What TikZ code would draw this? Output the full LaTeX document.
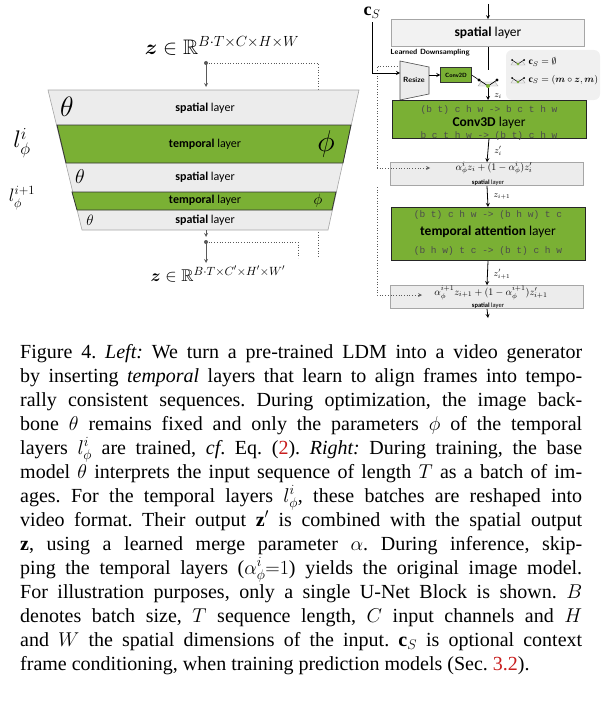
\RequirePackage{fix-cm}
\documentclass[tikz,border=0pt]{standalone}
\usepackage{amsmath,amssymb}
\usepackage{fontspec}
\setmainfont{Liberation Serif}
\newfontfamily\dsans{Carlito}
\newfontfamily\dmono{Liberation Mono}
\definecolor{lgreen}{RGB}{122,176,52}
\definecolor{lgray}{RGB}{236,236,236}
\definecolor{refred}{RGB}{200,30,30}
\newcommand{\capline}[2]{\node[anchor=base west,inner sep=0] at (20,#1) {\makebox[562pt][s]{#2}};}
\begin{document}
\frenchspacing
\begin{tikzpicture}[x=1pt,y=-1pt,
  gband/.style={fill=lgray,draw=gray!70,line width=0.6pt},
  tband/.style={fill=lgreen,draw=black!80,line width=0.8pt},
  lab/.style={font=\dsans\fontsize{12}{12}\selectfont},
  rbox/.style={fill=lgray,draw=gray!70,line width=0.6pt,minimum width=193pt,inner sep=0},
  tbox/.style={fill=lgreen,draw=black!85,line width=1pt,minimum width=194pt,inner sep=0},
  code/.style={font=\dmono\fontsize{9.5}{9.5}\selectfont,color=black!70},
  arr/.style={-stealth,line width=0.8pt},
  garr/.style={-stealth,line width=0.8pt,draw=gray!70!black},
  dot/.style={dotted,line width=0.7pt,draw=gray!70!black}]
\useasboundingbox (0,0) rectangle (600,709);
% ---------- left ----------
\coordinate (t0) at (206,63);
\coordinate (b0) at (206,242);
\draw[dot] (t0) -- (318,63) -- (318,257);
\draw[dot] (b0) -- (298,242) -- (298,258);
\draw[gband] (48,90) -- (359,90) -- (328,230) -- (82,230) -- cycle;
\draw[tband] (57,125) -- (351,125) -- (343,163) -- (66,163) -- cycle;
\draw[tband] (72,192) -- (336,192) -- (332,210) -- (77,210) -- cycle;
\node[font=\fontsize{21}{21}\selectfont] (zin) at (222,46) {$\boldsymbol{z}\in\mathbb{R}^{B\cdot T\times C\times H\times W}$};
\fill[gray!70!black] (t0) circle (2pt);
\draw[garr] (t0) -- (206,87);
\node[lab] (s1) at (205,108) {\textbf{spatial} layer};
\node[lab] (t1) at (205,144) {\textbf{temporal} layer};
\node[lab] (s2) at (205,177) {\textbf{spatial} layer};
\node[lab] (t2) at (205,200) {\textbf{temporal} layer};
\node[lab] (s3) at (205,220) {\textbf{spatial} layer};
\node[font=\fontsize{28}{28}\selectfont] at (67,107) {$\theta$};
\node[font=\fontsize{30}{30}\selectfont] at (326,144) {$\phi$};
\node[font=\fontsize{20}{20}\selectfont] at (80,177) {$\theta$};
\node[font=\fontsize{15}{15}\selectfont] at (318,201) {$\phi$};
\node[font=\fontsize{15}{15}\selectfont] at (90,220) {$\theta$};
\node[font=\fontsize{24}{24}\selectfont] at (22,143) {$l^i_\phi$};
\node[font=\fontsize{18}{18}\selectfont] at (22,198) {$l^{i+1}_\phi$};
\draw[garr] (206,230) -- (206,237);
\fill[gray!70!black] (b0) circle (2pt);
\draw[garr] (b0) -- (206,263);
\node[font=\fontsize{17}{17}\selectfont] (zout) at (218,274) {$\boldsymbol{z}\in\mathbb{R}^{B\cdot T\times C'\times H'\times W'}$};
% ---------- right ----------
\node[font=\fontsize{18}{18}\selectfont] (cs) at (372,13) {$\mathbf{c}_S$};
\node[rbox,minimum height=27pt,fill=gray!10,font=\dsans\fontsize{13.5}{13.5}\selectfont] (sp) at (488,33) {\textbf{spatial} layer};
\draw[arr] (488,4) -- (sp.north);
\node[font=\sffamily\bfseries\fontsize{7.5}{7.5}\selectfont] at (430,53) {Learned Downsampling};
\draw[dot] (377,168) -- (377,66) -- (398,66);
\draw[fill=lgray,draw=black!70,line width=0.6pt] (400,61) -- (429,67) -- (429,94) -- (400,100) -- cycle;
\node[font=\sffamily\bfseries\fontsize{7.5}{7.5}\selectfont] (rs) at (414,80) {Resize};
\node[fill=lgreen,draw=black!80,font=\sffamily\bfseries\fontsize{6}{6}\selectfont,minimum width=31pt,minimum height=15pt,inner sep=0] (c2) at (456,75) {Conv2D};
\draw[arr] (cs) -- (372,73) -- (400,73);
\draw[arr] (429,75) -- (c2.west);
% switch
\draw[line width=0.8pt] (sp.south) -- (488,70);
\draw[line width=0.6pt] (c2.east) -- (479,80);
\draw[fill=lgray,draw=gray!70] (478,86) -- (481,82) -- (495,82) -- (498,86) -- cycle;
\draw[line width=0.7pt] (479,80) -- (488,86) -- (497,80);
\fill (479,80) circle (1.6pt); \fill (497,80) circle (1.6pt);
\fill[lgreen] (488,86) circle (2pt);
\node[font=\fontsize{9}{9}\selectfont] at (498,96) {$z_i$};
\draw[arr] (488,88) -- (488,100);
% legend
\fill[gray!12,rounded corners=6pt] (506,50) rectangle (600,100);
\foreach \yy in {63,81}{
  \draw[fill=lgray,draw=gray!70] (511,\yy+2) -- (513,\yy-1) -- (523,\yy-1) -- (525,\yy+2) -- cycle;
  \draw[line width=0.5pt] (512,\yy-3) -- (518,\yy+1) -- (524,\yy-3);
  \fill (512,\yy-3) circle (1pt); \fill (524,\yy-3) circle (1pt);
  \fill[lgreen] (518,\yy+1) circle (1.3pt);}
\node[anchor=west,font=\fontsize{9.5}{9.5}\selectfont] at (525,62) {$\mathbf{c}_S=\emptyset$};
\node[anchor=west,font=\fontsize{9.5}{9.5}\selectfont] at (525,80) {$\mathbf{c}_S=(\boldsymbol{m}\circ\boldsymbol{z},\boldsymbol{m})$};
% conv3d
\node[tbox,minimum height=38pt] (c3) at (489,119) {};
\node[code] at (489,110) {(b t) c h w -> b c t h w};
\node[lab,font=\dsans\fontsize{13.5}{13.5}\selectfont] at (489,123) {\textbf{Conv3D} layer};
\node[code] at (489,136) {b c t h w -> (b t) c h w};
\node[rbox,minimum height=23pt] (m1) at (487,174) {};
\node[font=\fontsize{10}{10}\selectfont,inner sep=1pt] at (494,168) {$\alpha^i_\phi z_i+(1-\alpha^i_\phi)z'_i$};
\node[font=\dsans\fontsize{6.5}{6.5}\selectfont,inner sep=1pt] at (488,182.5) {\textbf{spatial} layer};
\draw[arr] (c3.south) -- (m1.north);
\node[font=\fontsize{9}{9}\selectfont] at (498,151) {$z'_i$};
\draw[dot,-stealth] (377,168) -- (430,168);
% temporal attention
\node[tbox,minimum height=53pt] (ta) at (488,234) {};
\node[code] at (488,215) {(b t) c h w -> (b h w) t c};
\node[lab,font=\dsans\fontsize{13.5}{13.5}\selectfont] at (488,232) {\textbf{temporal attention} layer};
\node[code] at (488,251) {(b h w) t c -> (b t) c h w};
\draw[arr] (m1.south) -- (ta.north);
\node[font=\fontsize{9}{9}\selectfont] at (502,196) {$z_{i+1}$};
\node[rbox,minimum height=23pt] (m2) at (487,297) {};
\node[font=\fontsize{10}{10}\selectfont,inner sep=1pt] at (491,293) {$\alpha^{i+1}_\phi z_{i+1}+(1-\alpha^{i+1}_\phi)z'_{i+1}$};
\node[font=\dsans\fontsize{6.5}{6.5}\selectfont,inner sep=1pt] at (488,305.5) {\textbf{spatial} layer};
\draw[arr] (ta.south) -- (m2.north);
\node[font=\fontsize{9}{9}\selectfont] at (502,274) {$z'_{i+1}$};
\draw[dot,-stealth] (377,187) -- (377,295) -- (422,295);
\coordinate (mo) at (488,318);
\draw[arr] (m2.south) -- (mo);
% ---------- caption ----------
\begin{scope}[font=\fontsize{20}{24}\selectfont]
\capline{358}{Figure 4. \emph{Left:} We turn a pre-trained LDM into a video generator}
\capline{382}{by inserting \emph{temporal} layers that learn to align frames into tempo-}
\capline{406}{rally consistent sequences. During optimization, the image back-}
\capline{430}{bone $\theta$ remains fixed and only the parameters $\phi$ of the temporal}
\capline{454}{layers $l^i_\phi$ are trained, \emph{cf}. Eq. (\textcolor{refred}{2}). \emph{Right:} During training, the base}
\capline{478}{model $\theta$ interprets the input sequence of length $T$ as a batch of im-}
\capline{502}{ages. For the temporal layers $l^i_\phi$, these batches are reshaped into}
\capline{526}{video format. Their output $\mathbf{z}'$ is combined with the spatial output}
\capline{550}{$\mathbf{z}$, using a learned merge parameter $\alpha$. During inference, skip-}
\capline{574}{ping the temporal layers ($\alpha^i_\phi{=}1$) yields the original image model.}
\capline{598}{For illustration purposes, only a single U-Net Block is shown. $B$}
\capline{622}{denotes batch size, $T$ sequence length, $C$ input channels and $H$}
\capline{646}{and $W$ the spatial dimensions of the input. $\mathbf{c}_S$ is optional context}
\node[anchor=base west,inner sep=0] at (20,670) {frame conditioning, when training prediction models (Sec. \textcolor{refred}{3.2}).};
\end{scope}
\end{tikzpicture}
\end{document}
